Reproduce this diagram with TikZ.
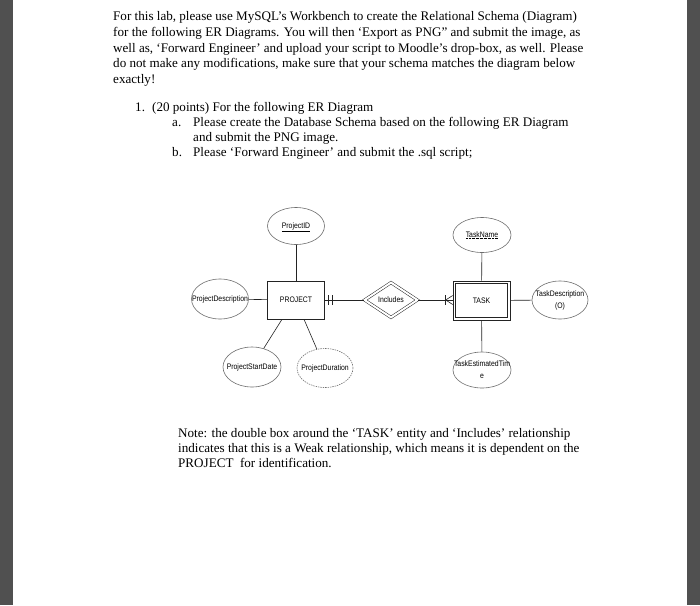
\documentclass[tikz,border=0pt]{standalone}
\usepackage{fontspec}
\setmainfont{Liberation Serif}
\setsansfont{Liberation Sans}
\newfontfamily\erfont{Liberation Sans}[FakeStretch=0.86]
\usepackage{tikz}
\usetikzlibrary{shapes.geometric, positioning, calc}
\definecolor{sidegray}{RGB}{80,80,80}
\definecolor{ergray}{RGB}{110,110,110}
\definecolor{erdark}{RGB}{35,35,35}
\newsavebox{\keybox}
\newcommand{\keydash}[1]{\sbox{\keybox}{#1}\rlap{\raisebox{-1.2pt}{\hbox to \wd\keybox{\xleaders\hbox to 1.3pt{\hss\rule{0.65pt}{0.4pt}\hss}\hfill}}}\usebox{\keybox}}
\newcommand{\attrtext}[1]{\makebox[0pt]{\renewcommand{\arraystretch}{1.4}\begin{tabular}{@{}c@{}}#1\end{tabular}}}
\tikzset{
  bodytext/.style={anchor=base west, inner sep=0pt,
    font=\fontsize{13.1}{15}\selectfont},
  entity/.style={rectangle, draw=erdark, minimum width=57pt, minimum height=38pt,
    inner sep=0pt, font=\fontsize{8}{9}\erfont, line width=0.6pt},
  relship/.style={diamond, draw=erdark, double, double distance=2pt, line width=0.5pt,
    minimum width=53pt, minimum height=35pt, inner sep=0pt, aspect=1.5,
    font=\fontsize{8}{9}\erfont},
  attr/.style={ellipse, draw=ergray, minimum width=57pt, minimum height=37pt,
    inner sep=0pt, font=\fontsize{8}{8.6}\erfont, line width=0.6pt},
  derived/.style={attr, dash pattern=on 1.4pt off 1pt},
  conn/.style={draw=erdark, line width=0.6pt}
}
\begin{document}
\begin{tikzpicture}[x=1pt, y=-1pt]
  \useasboundingbox (0,0) rectangle (700,605);
  \fill[white] (0,0) rectangle (700,605);
  \fill[sidegray] (0,0) rectangle (13,605);
  \fill[sidegray] (687,0) rectangle (700,605);

  % instructions
  \node[bodytext] (l1) at (113,20) {For this lab, please use MySQL’s Workbench to create the Relational Schema (Diagram)};
  \node[bodytext] (l2) at (113,36) {for the following ER Diagrams. You will then ‘Export as PNG” and submit the image, as};
  \node[bodytext] (l3) at (113,52) {well as, ‘Forward Engineer’ and upload your script to Moodle’s drop-box, as well. Please};
  \node[bodytext] (l4) at (113,67) {do not make any modifications, make sure that your schema matches the diagram below};
  \node[bodytext] (l5) at (113,83) {exactly!};

  \node[bodytext] (n1) at (135,111) {1.};
  \node[bodytext] (t1) at (152,111) {(20 points) For the following ER Diagram};
  \node[bodytext] (na) at (172,126) {a.};
  \node[bodytext] (ta) at (193,126) {Please create the Database Schema based on the following ER Diagram};
  \node[bodytext] (ta2) at (193,141) {and submit the PNG image.};
  \node[bodytext] (nb) at (172,156) {b.};
  \node[bodytext] (tb) at (193,156) {Please ‘Forward Engineer’ and submit the .sql script;};

  % ER diagram
  \node[entity] (project) at (296,300) {PROJECT};
  \node[attr] (pid) at (296,226) {\attrtext{\underline{ProjectID}}};
  \node[attr, minimum height=40pt] (pdesc) at (220,299) {\attrtext{ProjectDescription}};
  \node[attr, minimum width=58pt, minimum height=40pt] (pstart) at (252,367) {\attrtext{ProjectStartDate}};
  \node[derived, minimum width=56pt, minimum height=39pt] (pdur) at (325,368) {\attrtext{ProjectDuration}};
  \node[relship] (incl) at (391,300) {Includes};
  \node[entity, minimum width=57pt, minimum height=39pt] (task) at (481.5,300.5) {TASK};
  \draw[erdark, line width=0.6pt] ($(task.north west)+(3,3)$) rectangle ($(task.south east)+(-3,-3)$);
  \node[attr, minimum width=58pt, minimum height=35pt] (tname) at (482,235) {\attrtext{\keydash{TaskName}}};
  \node[attr, minimum width=56pt, minimum height=38pt] (tdesc) at (560,300) {\attrtext{TaskDescription\\(O)}};
  \node[attr, minimum width=58pt, minimum height=36pt] (ttime) at (482,370) {\attrtext{TaskEstimatedTim\\e}};

  \draw[conn] (pid) -- (project);
  \draw[conn] (pdesc) -- (project);
  \draw[conn] ([xshift=-14pt]project.south) -- (pstart);
  \draw[conn] ([xshift=8pt]project.south) -- (pdur);
  \draw[conn] (project) -- (incl);
  \draw[conn] ($(project.east)+(3,-5)$) -- ++(0,10);
  \draw[conn] ($(project.east)+(7,-5)$) -- ++(0,10);
  \draw[conn] (incl.east) -- (incl.east -| task.west);
  \coordinate (foot) at ($(task.west)+(-7,-0.5)$);
  \draw[conn] ($(foot)+(0,-5)$) -- ++(0,10);
  \draw[conn] ($(task.west)+(0,-5)$) -- (foot) -- ($(task.west)+(0,4)$);
  \draw[conn] (tname) -- (task);
  \draw[conn] (task) -- (tdesc);
  \draw[conn] (task) -- (ttime);

  % note
  \node[bodytext] (m1) at (178,437) {Note: the double box around the ‘TASK’ entity and ‘Includes’ relationship};
  \node[bodytext] (m2) at (178,452.7) {indicates that this is a Weak relationship, which means it is dependent on the};
  \node[bodytext] (m3) at (178,467.7) {PROJECT\ \ for identification.};
\end{tikzpicture}
\end{document}
